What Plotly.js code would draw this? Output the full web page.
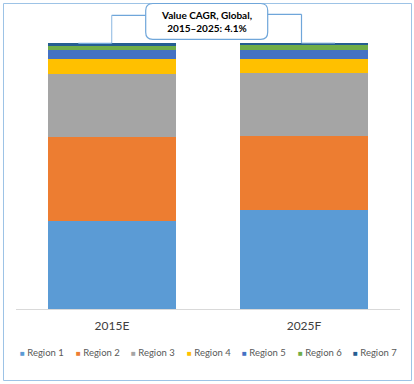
<!DOCTYPE html>
<html>
<head>
<meta charset="utf-8">
<script src="https://cdn.plot.ly/plotly-3.0.1.min.js"></script>
<style>
  html, body { margin: 0; padding: 0; background: #ffffff; }
  #chart { width: 414px; height: 384px; }
</style>
</head>
<body>
<div id="chart"></div>
<script>
// ---- data ----
const categories = ['2015E', '2025F'];
const seriesNames = ['Region 1', 'Region 2', 'Region 3', 'Region 4', 'Region 5', 'Region 6', 'Region 7'];
const region1 = [33.1, 37.2];
const region2 = [31.6, 27.8];
const region3 = [23.8, 23.6];
const region4 = [5.5, 5.3];
const region5 = [3.4, 3.4];
const region6 = [1.6, 1.9];
const region7 = [1.0, 0.8];
const seriesValues = [region1, region2, region3, region4, region5, region6, region7];
const cagrText = 'Value CAGR, Global,<br>2015–2025: 4.1%';

// ---- styles ----
const colors = ['#5B9BD5', '#ED7D31', '#A5A5A5', '#FFC000', '#4472C4', '#70AD47', '#255E91'];
const FONT = 'Lato, "Liberation Sans", sans-serif';
const W = 414, H = 384;
const M = {l: 16, r: 14, t: 43, b: 75};
const pw = W - M.l - M.r, ph = H - M.t - M.b;
const px = x => (x - M.l) / pw;
const py = y => (H - M.b - y) / ph;

const traces = seriesNames.map((name, i) => ({
  type: 'bar',
  name: name,
  x: categories,
  y: seriesValues[i],
  marker: {color: colors[i], line: {width: 0}},
  showlegend: false,
  hoverinfo: 'x+y+name'
}));

// rounded box path
function roundRect(x0, y0, x1, y1, r) {
  const X = px, Y = py;
  return `M ${X(x0 + r)} ${Y(y0)} L ${X(x1 - r)} ${Y(y0)} ` +
    `Q ${X(x1)} ${Y(y0)} ${X(x1)} ${Y(y0 + r)} ` +
    `L ${X(x1)} ${Y(y1 - r)} Q ${X(x1)} ${Y(y1)} ${X(x1 - r)} ${Y(y1)} ` +
    `L ${X(x0 + r)} ${Y(y1)} Q ${X(x0)} ${Y(y1)} ${X(x0)} ${Y(y1 - r)} ` +
    `L ${X(x0)} ${Y(y0 + r)} Q ${X(x0)} ${Y(y0)} ${X(x0 + r)} ${Y(y0)} Z`;
}
const connColor = '#6FA6DA';
function seg(x0, y0, x1, y1, c) {
  return {type: 'line', xref: 'paper', yref: 'paper', x0: px(x0), y0: py(y0), x1: px(x1), y1: py(y1),
    line: {color: c || connColor, width: 1.2}};
}

const shapes = [
  // outer border
  {type: 'rect', xref: 'paper', yref: 'paper', x0: px(3.5), y0: py(3.5), x1: px(411.5), y1: py(380.5),
    line: {color: '#9DC3E6', width: 1}, fillcolor: 'rgba(0,0,0,0)', layer: 'below'},
  // callout box
  {type: 'path', xref: 'paper', yref: 'paper', path: roundRect(145.7, 3.5, 267.7, 39.3, 7),
    line: {color: '#6FA6DA', width: 1.2}, fillcolor: '#ffffff'},
  // connectors
  seg(145.7, 15.3, 111.7, 15.3),
  seg(111.7, 15.3, 111.7, 43.3, '#9DC3E6'),
  seg(111.7, 43.3, 78.3, 43.3),
  seg(267.7, 14.3, 301.5, 14.3),
  seg(301.5, 14.3, 301.5, 43, connColor),
  seg(301.5, 43, 335, 43, '#9DC3E6')
];

const annotations = [
  {xref: 'paper', yref: 'paper', x: px(206.7), y: py(21.5), xanchor: 'center', yanchor: 'middle',
    text: '<b>' + cagrText + '</b>', showarrow: false, align: 'center',
    font: {family: FONT, size: 10, color: '#000000'}}
];
seriesNames.forEach((name, i) => {
  annotations.push({
    xref: 'paper', yref: 'paper', x: px(18 + i * 55.5), y: py(353), xanchor: 'left', yanchor: 'middle',
    showarrow: false,
    text: '<span style="color:' + colors[i] + ';font-size:8px">■</span> ' + name,
    font: {family: FONT, size: 9.5, color: '#595959'}
  });
});

const layout = {
  width: W, height: H,
  margin: M,
  paper_bgcolor: '#ffffff', plot_bgcolor: '#ffffff',
  barmode: 'stack',
  bargap: 1/3,
  showlegend: false,
  font: {family: FONT, color: '#595959'},
  xaxis: {
    type: 'category', showline: true, linecolor: '#D9D9D9', linewidth: 1,
    ticks: '', showgrid: false, zeroline: false, ticklabelstandoff: 6,
    tickfont: {family: FONT, size: 12, color: '#404040'}
  },
  yaxis: {range: [0, 100], visible: false, showgrid: false, zeroline: false},
  shapes: shapes,
  annotations: annotations
};

Plotly.newPlot('chart', traces, layout, {displayModeBar: false, staticPlot: true});
</script>
</body>
</html>
